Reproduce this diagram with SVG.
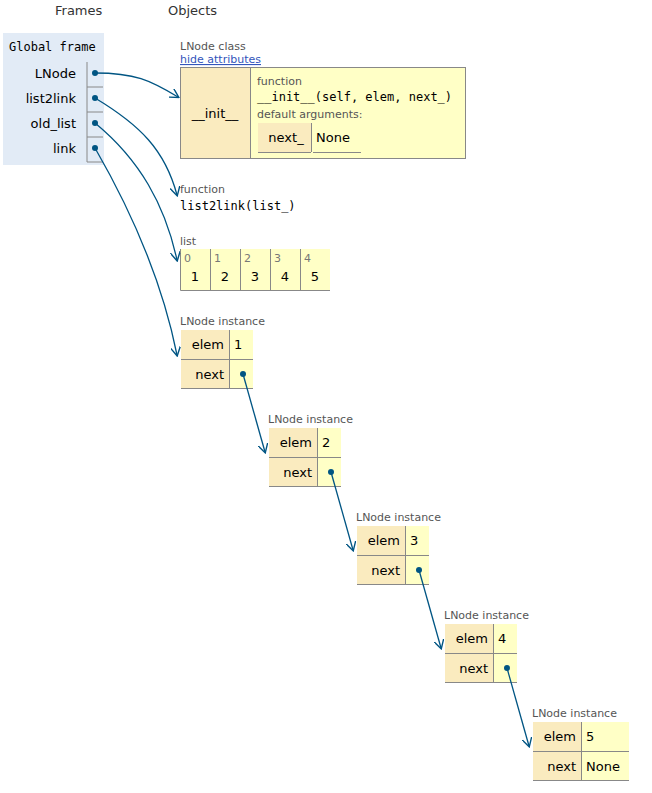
<svg xmlns="http://www.w3.org/2000/svg" width="652" height="793" viewBox="0 0 652 793">
<style>
text{font-family:"DejaVu Sans",Verdana,sans-serif;fill:#000}
.hd{font-size:13px;fill:#333}
.lb{font-size:11px;fill:#555}
.v{font-size:13px}
.m{font-family:"DejaVu Sans Mono","Liberation Mono",monospace;font-size:12px}
.k{fill:#faebbf}
.y{fill:#ffffc6}
.ln{stroke:#888;stroke-width:1;fill:none}
.ar{stroke:#005583;stroke-width:1.3;fill:none;marker-end:url(#ah)}
.d{fill:#005583}
.ix{font-size:11px;fill:#777}
</style>
<defs>
<marker id="ah" markerWidth="10" markerHeight="10" refX="8" refY="5" orient="auto" markerUnits="userSpaceOnUse">
<path d="M0,0 L9,5 L0,10" fill="none" stroke="#005583" stroke-width="1.4"/>
</marker>
</defs>
<text class="hd" x="55" y="15">Frames</text>
<text class="hd" x="168" y="15">Objects</text>
<g id="global">
<rect x="3" y="33" width="101" height="132" fill="#e2ebf6"/>
<text class="m" x="9" y="51">Global frame</text>
<text class="v" x="76" y="78" text-anchor="end">LNode</text>
<text class="v" x="76" y="103" text-anchor="end">list2link</text>
<text class="v" x="76" y="128" text-anchor="end">old_list</text>
<text class="v" x="76" y="153" text-anchor="end">link</text>
<path class="ln" d="M87,62 V87 H103 M87,87 V112 H103 M87,112 V137 H103 M87,137 V162 H103" stroke="#aaa"/>
<circle class="d" cx="95" cy="73" r="3"/><circle class="d" cx="95" cy="98" r="3"/><circle class="d" cx="95" cy="123" r="3"/><circle class="d" cx="95" cy="148" r="3"/>
</g>
<g id="lnode_class">
<text class="lb" x="180" y="50">LNode class</text>
<text class="lb" x="180" y="63" fill="#3355bb" style="fill:#3355bb;text-decoration:underline">hide attributes</text>
<rect class="k" x="180" y="67" width="70" height="92"/>
<rect class="y" x="250" y="67" width="216" height="92"/>
<rect class="ln" x="180.5" y="67.5" width="285" height="91"/>
<line class="ln" x1="250.5" y1="67" x2="250.5" y2="159"/>
<text class="v" x="215" y="118" text-anchor="middle">__init__</text>
<text class="lb" x="257" y="85">function</text>
<text class="m" x="257" y="101">__init__(self, elem, next_)</text>
<text class="lb" x="257" y="118">default arguments:</text>
<rect class="k" x="258" y="123" width="53" height="29"/>
<path class="ln" d="M258,152.5 H311 M313,152.5 H361 M311.5,123 V152"/>
<text class="v" x="286" y="142" text-anchor="middle">next_</text>
<text class="v" x="316" y="142">None</text>
</g>
<g id="func">
<text class="lb" x="180" y="193">function</text>
<text class="m" x="180" y="210">list2link(list_)</text>
</g>
<g id="list">
<text class="lb" x="180" y="245">list</text>
<rect class="y" x="180" y="249" width="150" height="41"/>
<path class="ln" d="M180.5,249 V290.5 H330 M210.5,249 V290 M240.5,249 V290 M270.5,249 V290 M300.5,249 V290"/>
<text class="ix" x="184" y="262">0</text><text class="ix" x="214" y="262">1</text><text class="ix" x="244" y="262">2</text><text class="ix" x="274" y="262">3</text><text class="ix" x="304" y="262">4</text>
<text class="v" x="195" y="281" text-anchor="middle">1</text><text class="v" x="225" y="281" text-anchor="middle">2</text><text class="v" x="255" y="281" text-anchor="middle">3</text><text class="v" x="285" y="281" text-anchor="middle">4</text><text class="v" x="315" y="281" text-anchor="middle">5</text>
</g>
<g id="inst1" transform="translate(180,0)">
<text class="lb" x="0" y="325">LNode instance</text>
<rect class="k" x="1" y="330" width="48" height="58"/><rect class="y" x="49" y="330" width="24" height="58"/>
<path class="ln" d="M1,359.5 H73 M1,388.5 H73 M49.5,330 V388" stroke="#999"/>
<text class="v" x="44" y="349" text-anchor="end">elem</text><text class="v" x="54" y="349">1</text>
<text class="v" x="44" y="379" text-anchor="end">next</text>
<circle class="d" cx="63" cy="374" r="3"/>
</g>
<g id="inst2" transform="translate(268,98)">
<text class="lb" x="0" y="325">LNode instance</text>
<rect class="k" x="1" y="330" width="48" height="58"/><rect class="y" x="49" y="330" width="24" height="58"/>
<path class="ln" d="M1,359.5 H73 M1,388.5 H73 M49.5,330 V388" stroke="#999"/>
<text class="v" x="44" y="349" text-anchor="end">elem</text><text class="v" x="54" y="349">2</text>
<text class="v" x="44" y="379" text-anchor="end">next</text>
<circle class="d" cx="63" cy="374" r="3"/>
</g>
<g id="inst3" transform="translate(356,196)">
<text class="lb" x="0" y="325">LNode instance</text>
<rect class="k" x="1" y="330" width="48" height="58"/><rect class="y" x="49" y="330" width="24" height="58"/>
<path class="ln" d="M1,359.5 H73 M1,388.5 H73 M49.5,330 V388" stroke="#999"/>
<text class="v" x="44" y="349" text-anchor="end">elem</text><text class="v" x="54" y="349">3</text>
<text class="v" x="44" y="379" text-anchor="end">next</text>
<circle class="d" cx="63" cy="374" r="3"/>
</g>
<g id="inst4" transform="translate(444,294)">
<text class="lb" x="0" y="325">LNode instance</text>
<rect class="k" x="1" y="330" width="48" height="58"/><rect class="y" x="49" y="330" width="24" height="58"/>
<path class="ln" d="M1,359.5 H73 M1,388.5 H73 M49.5,330 V388" stroke="#999"/>
<text class="v" x="44" y="349" text-anchor="end">elem</text><text class="v" x="54" y="349">4</text>
<text class="v" x="44" y="379" text-anchor="end">next</text>
<circle class="d" cx="63" cy="374" r="3"/>
</g>
<g id="inst5" transform="translate(532,392)">
<text class="lb" x="0" y="325">LNode instance</text>
<rect class="k" x="1" y="330" width="48" height="58"/><rect class="y" x="49" y="330" width="48" height="58"/>
<path class="ln" d="M1,359.5 H97 M1,388.5 H97 M49.5,330 V388" stroke="#999"/>
<text class="v" x="44" y="349" text-anchor="end">elem</text><text class="v" x="54" y="349">5</text>
<text class="v" x="44" y="379" text-anchor="end">next</text>
<text class="v" x="54" y="379">None</text>
</g>
<g id="connectors">
<path class="ar" d="M95,73 C135,73 150,80 178,97"/>
<path class="ar" d="M95,98 C140,125 165,150 177,195"/>
<path class="ar" d="M95,123 C140,160 165,205 177,260"/>
<path class="ar" d="M95,148 C125,200 160,270 177,355"/>
<path class="ar" d="M243,374 L265,452"/>
<path class="ar" d="M331,472 L353,550"/>
<path class="ar" d="M419,570 L441,648"/>
<path class="ar" d="M507,668 L529,746"/>
</g>
</svg>
